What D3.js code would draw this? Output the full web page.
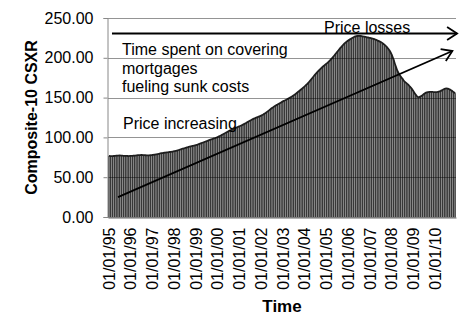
<!DOCTYPE html>
<html>
<head>
<meta charset="utf-8">
<script src="https://cdn.jsdelivr.net/npm/d3@7"></script>
<style>
  html, body { margin: 0; padding: 0; background: #fff; }
  svg { display: block; font-family: "Liberation Sans", Arial, sans-serif; }
</style>
</head>
<body>
<svg id="chart" width="474" height="335"></svg>
<script>
// Composite-10 CSXR, monthly, Jan 1995 – Dec 2010
const years = d3.range(1995, 2011);
const values1995 = [76.8, 76.6, 76.5, 76.7, 77.0, 77.2, 77.3, 77.1, 76.9, 76.8, 76.7, 76.6];
const values1996 = [76.8, 76.9, 77.0, 77.3, 77.6, 77.8, 77.9, 77.8, 77.6, 77.5, 77.5, 77.6];
const values1997 = [77.9, 78.2, 78.6, 79.1, 79.6, 80.1, 80.5, 80.8, 81.1, 81.4, 81.8, 82.2];
const values1998 = [82.7, 83.2, 83.8, 84.5, 85.3, 86.0, 86.7, 87.4, 88.0, 88.6, 89.2, 89.7];
const values1999 = [90.3, 91.0, 91.8, 92.7, 93.6, 94.5, 95.4, 96.3, 97.1, 97.9, 98.7, 99.5];
const values2000 = [100.5, 101.6, 102.8, 104.0, 105.3, 106.5, 107.7, 108.8, 109.9, 111.0, 112.0, 113.0];
const values2001 = [114.0, 115.0, 116.1, 117.3, 118.6, 119.9, 121.2, 122.5, 123.6, 124.6, 125.5, 126.4];
const values2002 = [127.4, 128.5, 129.9, 131.5, 133.3, 135.2, 137.0, 138.6, 140.0, 141.3, 142.6, 143.9];
const values2003 = [145.2, 146.3, 147.5, 148.7, 150.0, 151.4, 152.9, 154.6, 156.4, 158.3, 160.2, 162.1];
const values2004 = [164.0, 166.2, 168.6, 171.2, 174.0, 176.8, 179.5, 182.1, 184.6, 186.8, 188.8, 190.7];
const values2005 = [192.6, 194.6, 196.8, 199.3, 202.0, 204.8, 207.6, 210.4, 213.1, 215.7, 218.0, 220.0];
const values2006 = [221.7, 223.2, 224.6, 225.8, 226.8, 227.4, 227.6, 227.4, 227.0, 226.5, 226.0, 225.5];
const values2007 = [225.0, 224.4, 223.7, 222.9, 222.0, 221.0, 219.8, 218.4, 216.6, 214.4, 211.7, 208.5];
const values2008 = [204.0, 198.0, 191.0, 184.5, 180.0, 176.5, 173.5, 170.5, 168.5, 166.5, 164.0, 161.5];
const values2009 = [158.0, 154.5, 151.5, 150.5, 151.5, 153.0, 154.8, 156.2, 157.0, 157.3, 157.2, 157.0];
const values2010 = [156.8, 156.9, 157.4, 158.3, 159.6, 160.8, 161.6, 161.4, 160.3, 158.8, 157.2, 155.6];

const yTicks = [0, 50, 100, 150, 200, 250];
const xTickLabels = years.map(y => "01/01/" + String(y).slice(2));

// Annotation arrows in data units: [monthIndex, value]
const trendArrow = [[5.5, 25], [190, 208.5]];
const lossArrow = [[2.2, 230.5], [192.6, 230.5]];

const series = [].concat(
  values1995, values1996, values1997, values1998, values1999, values2000,
  values2001, values2002, values2003, values2004, values2005, values2006,
  values2007, values2008, values2009, values2010
);
const data = series.map((v, i) => ({ i, value: v }));

// ---- layout ----
const svg = d3.select("#chart");
const plot = { left: 108, right: 456, top: 18, bottom: 217 };

const x = d3.scaleBand()
  .domain(data.map(d => d.i))
  .range([plot.left, plot.right])
  .paddingInner(0).paddingOuter(0);
const xm = d3.scaleLinear().domain([0, data.length]).range([plot.left, plot.right]);
const y = d3.scaleLinear().domain([0, 250]).range([plot.bottom, plot.top]);

svg.append("rect").attr("width", 474).attr("height", 335).attr("fill", "#fff");

// bars
const bw = x.bandwidth();
svg.append("g").selectAll("rect")
  .data(data).join("rect")
  .attr("x", d => x(d.i) + 0.12)
  .attr("width", bw - 0.28)
  .attr("y", d => y(d.value))
  .attr("height", d => y(0) - y(d.value))
  .attr("fill", "#383838");

// outline along the bar tops
svg.append("path")
  .datum(data)
  .attr("fill", "none")
  .attr("stroke", "#1e1e1e")
  .attr("stroke-width", 1.8)
  .attr("d", d3.line()
    .x(d => x(d.i) + bw / 2)
    .y(d => y(d.value))
    .curve(d3.curveMonotoneX));

// gridlines (darken over bars, light over white)
svg.append("g").selectAll("line")
  .data(yTicks).join("line")
  .attr("x1", plot.left).attr("x2", plot.right)
  .attr("y1", d => Math.round(y(d)) + 0.5).attr("y2", d => Math.round(y(d)) + 0.5)
  .attr("stroke", "#000").attr("stroke-opacity", 0.42).attr("stroke-width", 1);

// y axis
const yAxis = svg.append("g")
  .attr("transform", `translate(${plot.left - 0.5},0)`)
  .call(d3.axisLeft(y).tickValues(yTicks).tickFormat(d3.format(".2f")).tickSize(4).tickPadding(10));
yAxis.select(".domain").attr("stroke", "#888");
yAxis.selectAll(".tick line").attr("stroke", "#888");
yAxis.selectAll(".tick text")
  .attr("font-size", 16).attr("fill", "#000")
  .attr("font-family", "Liberation Sans, Arial, sans-serif");

// x axis (category labels every 12 months)
const xAxis = svg.append("g")
  .attr("transform", `translate(0,${Math.round(plot.bottom) + 0.5})`)
  .call(d3.axisBottom(x)
    .tickValues(years.map((yr, k) => k * 12))
    .tickFormat((d, k) => xTickLabels[k])
    .tickSize(0).tickPadding(0));
xAxis.select(".domain").attr("stroke", "#666");
xAxis.selectAll(".tick text")
  .attr("font-size", 16).attr("fill", "#000")
  .attr("font-family", "Liberation Sans, Arial, sans-serif")
  .attr("text-anchor", "end")
  .attr("transform", "rotate(-90)")
  .attr("x", -10).attr("y", 0).attr("dy", "0.36em");

// axis titles
svg.append("text")
  .attr("transform", `translate(37,${(plot.top + plot.bottom) / 2}) rotate(-90)`)
  .attr("text-anchor", "middle")
  .attr("font-size", 16).attr("font-weight", "bold")
  .text("Composite-10 CSXR");
svg.append("text")
  .attr("x", (plot.left + plot.right) / 2).attr("y", 312)
  .attr("text-anchor", "middle")
  .attr("font-size", 17).attr("font-weight", "bold")
  .text("Time");

// arrows
const defs = svg.append("defs");
defs.append("marker")
  .attr("id", "head").attr("viewBox", "-12 -8 14 16")
  .attr("refX", 0).attr("refY", 0)
  .attr("markerUnits", "userSpaceOnUse")
  .attr("markerWidth", 14).attr("markerHeight", 16)
  .attr("orient", "auto")
  .append("path").attr("d", "M-10,-6.5L0,0L-10,6.5")
  .attr("fill", "none").attr("stroke", "#000").attr("stroke-width", 1.8);

const arrowLine = d3.line().x(d => xm(d[0])).y(d => y(d[1]));
[trendArrow, lossArrow].forEach(a => {
  svg.append("path")
    .attr("d", arrowLine(a))
    .attr("fill", "none").attr("stroke", "#000").attr("stroke-width", 1.8)
    .attr("marker-end", "url(#head)");
});

// annotation text
const note = (tx, ty, s) => svg.append("text")
  .attr("x", tx).attr("y", ty).attr("font-size", 16).attr("fill", "#000").text(s);
note(324, 33, "Price losses");
note(122, 55, "Time spent on covering");
note(122, 73.5, "mortgages");
note(122, 92, "fueling sunk costs");
note(123, 129, "Price increasing");
</script>
</body>
</html>
